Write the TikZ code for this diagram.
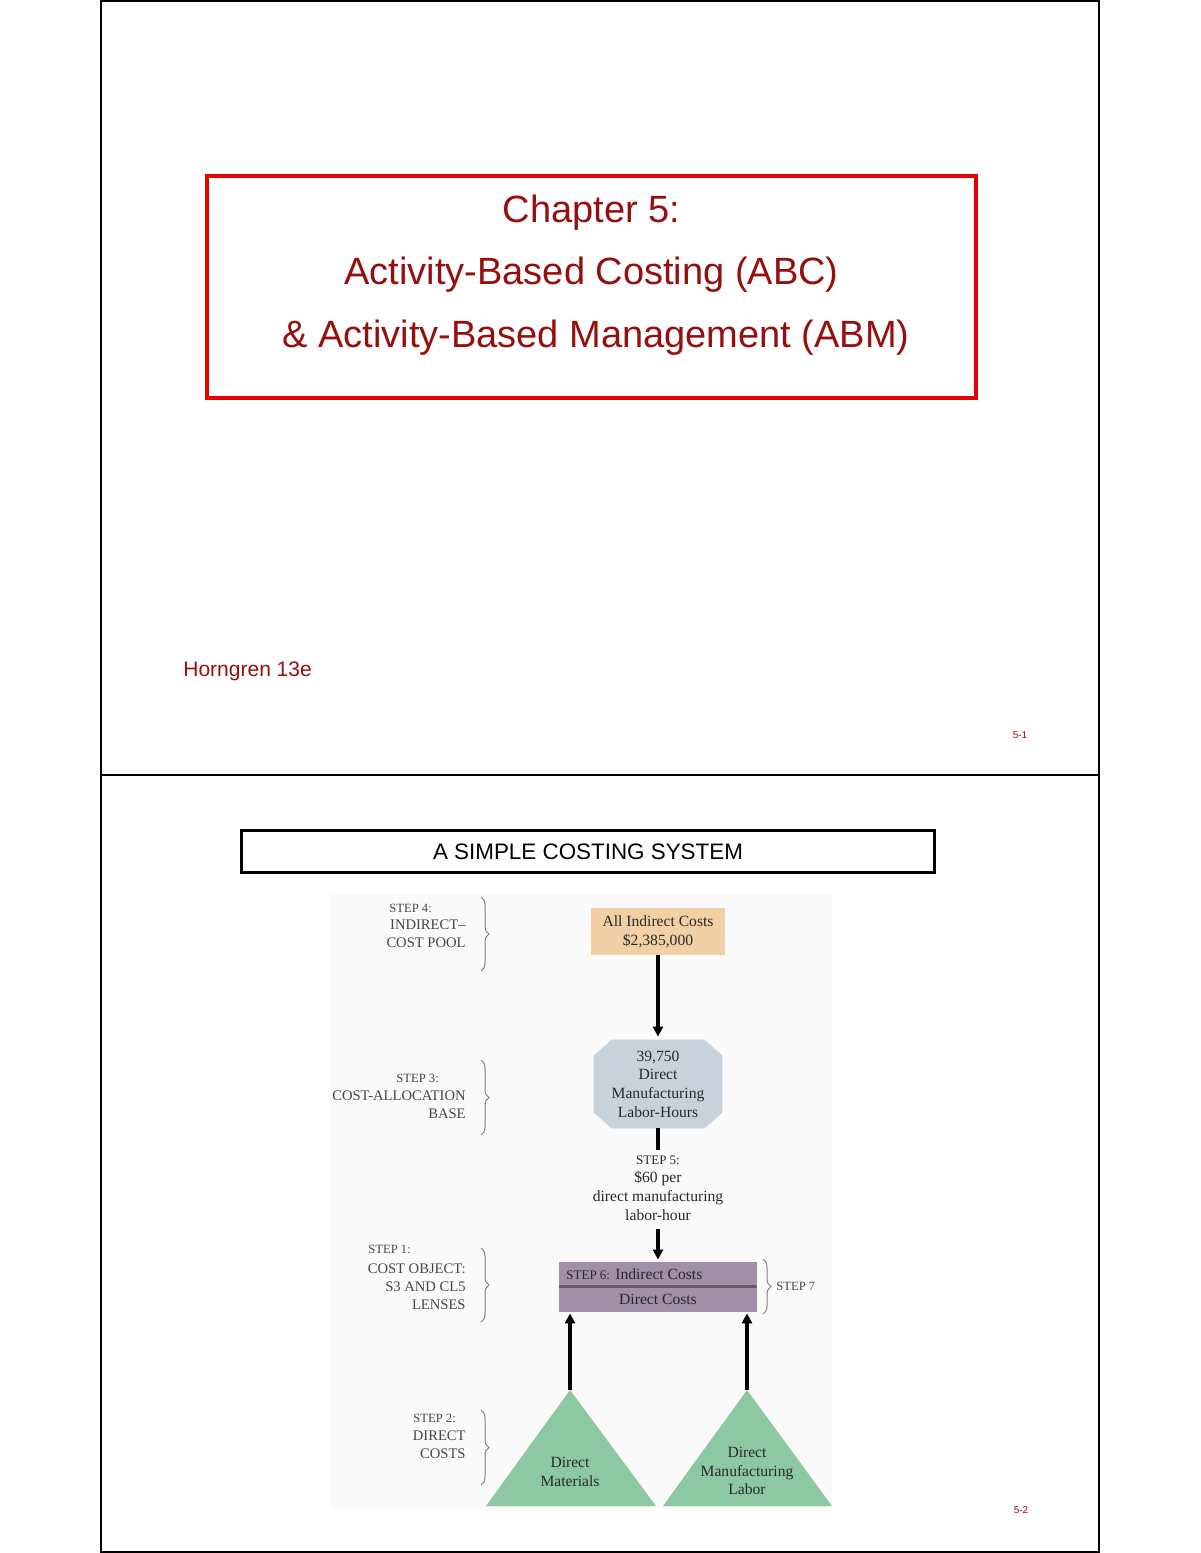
\documentclass[tikz,border=0pt]{standalone}
\usepackage{fontspec}
\setmainfont{Liberation Serif}
\setsansfont{Liberation Sans}
\usetikzlibrary{decorations.pathreplacing,arrows.meta}

\definecolor{titlered}{RGB}{150,15,15}
\definecolor{boxred}{RGB}{232,0,0}
\definecolor{orangefill}{RGB}{242,208,165}
\definecolor{octfill}{RGB}{200,210,220}
\definecolor{purpfill}{RGB}{163,142,168}
\definecolor{purpline}{RGB}{105,88,110}
\definecolor{greenfill}{RGB}{140,200,162}
\definecolor{dtextcol}{RGB}{40,40,40}
\definecolor{lblcol}{RGB}{70,70,70}
\definecolor{bggray}{RGB}{250,250,250}

\tikzset{
  frameline/.style={line width=0.75pt, draw=black},
  titletext/.style={font=\sffamily\fontsize{19}{23}\selectfont, text=titlered, inner sep=0pt},
  dtext/.style={font=\fontsize{7.8}{9.3}\selectfont, text=dtextcol, align=center, inner sep=0pt},
  lblbody/.style={font=\fontsize{7.3}{8.9}\selectfont, text=lblcol, align=right, inner sep=0pt, anchor=east},
  lblhead/.style={font=\fontsize{6.3}{8}\selectfont, text=lblcol, inner sep=0pt, anchor=west},
  brc/.style={decorate, decoration={brace, amplitude=4pt}, draw=gray, line width=0.5pt},
  thickarrow/.style={line width=2pt, draw=black, -{Triangle[length=5pt,width=5pt]}},
  thickline/.style={line width=2pt, draw=black},
}

\begin{document}
\begin{tikzpicture}[x=0.5pt,y=-0.5pt]
\useasboundingbox (0,0) rectangle (1200,1553);

% slide frames
\draw[frameline] (101,1) rectangle (1099,1552);
\draw[frameline] (101,775) -- (1099,775);

% ---------- slide 1 ----------
\node[draw=boxred, line width=2pt, minimum width=384.5pt, minimum height=111pt, inner sep=0pt] (titlebox) at (591.5,287) {};
\node[titletext] (t1) at (591.5,213) {Chapter 5:};
\node[titletext] (t2) at (591.5,275) {Activity-Based Costing (ABC)};
\node[titletext] (t3) at (596,338) {\& Activity-Based Management (ABM)};
\node[font=\sffamily\fontsize{10.5}{12}\selectfont, text=titlered, anchor=west, inner sep=0pt] (auth) at (183,671) {Horngren 13e};
\node[font=\sffamily\fontsize{5}{6}\selectfont, text=titlered, inner sep=0pt] (pg1) at (1020,735) {5-1};

% ---------- slide 2 ----------
\node[draw=black, line width=1.5pt, minimum width=346.5pt, minimum height=21pt, inner sep=0pt] (sbox) at (587.5,851) {};
\node[font=\sffamily\fontsize{11.2}{13}\selectfont, inner sep=0pt] (stitle) at (588,852) {A SIMPLE COSTING SYSTEM};
\node[font=\sffamily\fontsize{5}{6}\selectfont, text=titlered, inner sep=0pt] (pg2) at (1021,1510) {5-2};

% faint diagram background
\fill[bggray] (330,893) rectangle (832,1508);

% orange pool
\node[fill=orangefill, minimum width=67pt, minimum height=23.5pt, inner sep=0pt, dtext] (pool) at (658,931.5) {All Indirect Costs\\\$2,385,000};

% octagon base (shape drawn from node anchors)
\node[minimum width=64pt, minimum height=44pt, inner sep=0pt] (base) at (658,1084) {};
\fill[octfill] ([xshift=9pt]base.north west) -- ([xshift=-9pt]base.north east)
  -- ([yshift=-8pt]base.north east) -- ([yshift=8pt]base.south east)
  -- ([xshift=-9pt]base.south east) -- ([xshift=9pt]base.south west)
  -- ([yshift=8pt]base.south west) -- ([yshift=-8pt]base.north west) -- cycle;
\node[dtext] (basetext) at (base.center) {39,750\\Direct\\Manufacturing\\Labor-Hours};

% step 5 text
\node[dtext] (rate) at (658,1188) {{\fontsize{6.5}{9.3}\selectfont STEP 5:}\\\$60 per\\direct manufacturing\\labor-hour};

% cost object box
\node[fill=purpfill, minimum width=99pt, minimum height=25pt, inner sep=0pt] (cobj) at (658,1287) {};
\draw[purpline, line width=1.5pt] (cobj.west |- 0,1286) -- (cobj.east |- 0,1286);
\node[dtext, anchor=west, text=black!85] (indc) at (566,1274) {{\fontsize{6.5}{8}\selectfont STEP 6:} Indirect Costs};
\node[dtext, text=black!85] (dirc) at (658,1299) {Direct Costs};

% triangles
\coordinate (apexL) at (570,1390);
\coordinate (apexR) at (747,1390);
\fill[greenfill] (apexL) -- (656,1506) -- (486,1506) -- cycle;
\fill[greenfill] (apexR) -- (832,1506) -- (663,1506) -- cycle;
\node[dtext] (dm) at (570,1472) {Direct\\Materials};
\node[dtext] (dml) at (747,1471) {Direct\\Manufacturing\\Labor};

% connectors
\draw[thickarrow, shorten >=1.5pt] (pool.south) -- (base.north);
\draw[thickline] (base.south) -- ([yshift=2.5pt]rate.north);
\draw[thickarrow, shorten <=4pt, shorten >=1pt] (rate.south) -- (cobj.north);
\draw[thickarrow, shorten >=0.5pt] (apexL) -- (apexL |- cobj.south);
\draw[thickarrow, shorten >=0.5pt] (apexR) -- (apexR |- cobj.south);

% left labels
\draw[brc] (481,897) -- (481,971);
\node[lblhead] (s4h) at (389,908) {STEP 4:};
\node[lblbody] (s4b) at (466,934) {INDIRECT–\\COST POOL};

\draw[brc] (481,1060) -- (481,1135);
\node[lblhead] (s3h) at (396,1078) {STEP 3:};
\node[lblbody] (s3b) at (466,1105) {COST-ALLOCATION\\BASE};

\draw[brc] (481,1248) -- (481,1322);
\node[lblhead] (s1h) at (368,1249) {STEP 1:};
\node[lblbody] (s1b) at (466,1286.5) {COST OBJECT:\\S3 AND CL5\\LENSES};

\draw[brc] (481,1410) -- (481,1485);
\node[lblhead] (s2h) at (413,1418) {STEP 2:};
\node[lblbody] (s2b) at (466,1445) {DIRECT\\COSTS};

% step 7
\draw[brc] (763,1259) -- (763,1314);
\node[lblhead] (s7) at (776,1286) {STEP 7};

\end{tikzpicture}
\end{document}
